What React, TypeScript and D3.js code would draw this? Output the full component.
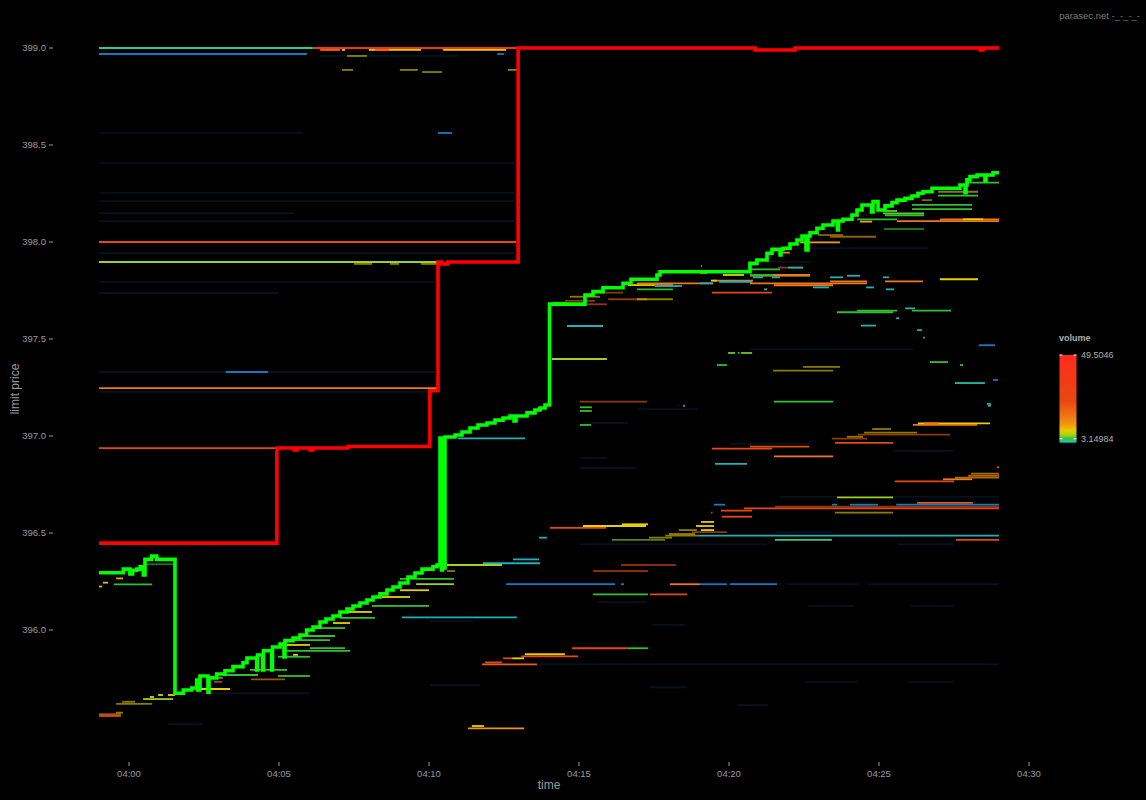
import React from "react";
import * as d3 from "d3";

const W = 1146;
const H = 800;

// time is expressed in minutes after 04:00
const base = new Date(2015, 0, 1, 4, 0, 0);
const at = (m: number) => new Date(base.getTime() + m * 60000);

// best ask (red) [minute, price]
const bestAsk: [number, number][] = [
  [-1, 396.448], [4.93, 396.938], [5.5, 396.928], [5.6, 396.938], [6.03, 396.928], [6.13, 396.938],
  [7.3, 396.946], [10.03, 397.233], [10.3, 397.897], [10.43, 397.887], [10.63, 397.897],
  [12.97, 399.0], [20.87, 398.99], [22.2, 399.0], [28.37, 398.99], [28.47, 399.0], [29, 399.0],
];

// best bid (green) [minute, price]
const bestBid: [number, number][] = [
  [-1.0, 396.295], [-0.19, 396.314], [0.03, 396.289], [0.12, 396.308], [0.26, 396.314], [0.37, 396.326],
  [0.477, 396.284], [0.533, 396.364], [0.757, 396.381], [0.923, 396.364], [1.533, 395.674], [1.81, 395.691],
  [2.09, 395.701], [2.257, 395.742], [2.283, 395.691], [2.367, 395.763], [2.633, 395.68], [2.667, 395.753],
  [2.923, 395.773], [3.2, 395.79], [3.467, 395.811], [3.8, 395.831], [3.933, 395.856], [4.257, 395.794],
  [4.283, 395.871], [4.457, 395.794], [4.483, 395.893], [4.757, 395.794], [4.783, 395.912], [5.033, 395.928],
  [5.167, 395.861], [5.2, 395.945], [5.467, 395.959], [5.7, 395.974], [5.923, 396.0], [6.133, 396.015],
  [6.367, 396.041], [6.567, 396.057], [6.8, 396.072], [7.033, 396.093], [7.267, 396.108], [7.467, 396.124],
  [7.7, 396.139], [7.933, 396.155], [8.133, 396.17], [8.367, 396.186], [8.6, 396.206], [8.8, 396.222],
  [9.033, 396.242], [9.3, 396.273], [9.533, 396.294],
  [9.767, 396.314], [10.133, 396.326], [10.267, 396.335], [10.367, 396.99], [10.417, 396.309], [10.45, 396.979],
  [10.5, 396.32], [10.533, 396.995], [10.867, 397.005], [11.1, 397.021], [11.367, 397.041], [11.633, 397.057],
  [11.933, 397.067], [12.2, 397.082], [12.467, 397.093], [12.7, 397.103], [12.833, 397.077], [12.9, 397.103],
  [13.267, 397.119], [13.533, 397.134], [13.7, 397.144], [13.867, 397.16], [14.017, 397.68], [15.2, 397.727],
  [15.467, 397.744], [15.8, 397.764], [16.467, 397.787], [16.733, 397.808], [17.6, 397.83], [17.7, 397.847],
  [20.7, 397.89], [20.933, 397.907], [21.267, 397.942], [21.433, 397.962], [21.7, 397.933], [21.733, 397.962],
  [21.8, 397.968], [22.033, 397.99], [22.267, 398.01], [22.433, 398.031], [22.567, 397.959], [22.633, 398.031],
  [22.7, 398.048], [22.933, 398.071], [23.133, 398.088], [23.467, 398.108], [23.617, 398.062], [23.65, 398.108],
  [23.8, 398.117], [24.1, 398.139], [24.267, 398.165], [24.433, 398.191], [24.75, 398.155], [24.8, 398.208],
  [24.967, 398.165], [25.2, 398.186], [25.433, 398.203], [25.6, 398.216], [25.867, 398.225], [26.1, 398.237],
  [26.3, 398.251], [26.467, 398.259], [26.767, 398.277], [27.7, 398.294], [27.867, 398.254], [27.9, 398.294],
  [27.933, 398.32], [28.033, 398.337], [28.267, 398.345], [28.533, 398.316], [28.567, 398.345], [28.8, 398.357],
  [29.0, 398.357],
];

// resting limit orders: [start minute, end minute, price, volume]
const ordersBright: [number, number, number, number][] = [
  [-1.0, 6.13, 399.0, 2.0], [6.13, 12.93, 399.0, 42], [-1.0, 5.93, 398.969, 0.4], [6.37, 7.03, 398.99, 18],
  [7.1, 7.2, 398.99, 7.5], [8.0, 9.73, 398.99, 7.5], [8.2, 8.67, 398.99, 20], [10.47, 12.57, 398.99, 7.5],
  [12.27, 12.5, 398.969, 0.4], [10.3, 10.77, 398.562, 0.4], [-1.0, 12.9, 398.0, 24], [-1.0, 10.3, 397.897, 5],
  [3.23, 4.63, 397.33, 0.4], [-1.0, 10.27, 397.247, 15], [-1.0, 4.93, 396.938, 24],
  [-0.43, -0.2, 396.266, 10.5], [-0.87, -0.7, 396.244, 9], [-1.0, -0.9, 396.224, 9], [-0.5, 0.77, 396.235, 3.2],
  [0.97, 1.13, 395.665, 7.5], [1.3, 1.53, 395.665, 7.5], [0.7, 0.83, 395.655, 7.5], [0.47, 1.47, 395.644, 5],
  [-1.0, -0.27, 395.557, 24], [2.27, 3.37, 395.696, 7.5], [3.13, 4.3, 395.768, 3.2], [4.03, 5.27, 395.794, 3.2],
  [4.97, 6.03, 395.763, 3.2], [4.97, 6.03, 395.862, 3.2], [5.47, 5.63, 395.872, 7.5],
  [8.43, 9.37, 396.17, 7.5], [8.1, 9.03, 396.124, 3.2], [7.2, 8.1, 396.093, 7.5], [7.03, 8.2, 396.062, 3.2],
  [6.8, 7.37, 396.036, 7.5], [6.37, 7.2, 396.01, 3.2], [5.7, 6.87, 395.969, 3.2], [5.37, 6.7, 395.948, 3.2],
  [5.03, 6.03, 395.923, 7.5], [6.03, 7.2, 395.907, 3.2], [5.2, 7.37, 395.892, 3.2],
  [15.13, 17.23, 396.536, 7.5], [14.03, 15.9, 396.526, 24], [13.67, 13.93, 396.476, 1.0], [12.8, 13.67, 396.364, 1.0],
  [11.8, 13.7, 396.344, 1.0], [10.6, 12.43, 396.335, 5], [9.03, 10.83, 396.264, 3.2], [9.57, 10.83, 396.236, 5],
  [12.57, 16.2, 396.236, 0.4], [16.4, 16.5, 396.236, 0.4], [18.03, 19.03, 396.236, 15], [19.03, 19.93, 396.236, 0.4],
  [20.03, 21.6, 396.236, 0.4], [9.03, 10.0, 396.205, 7.5], [9.03, 10.0, 396.124, 3.2], [9.1, 12.93, 396.065, 1.0],
  [15.47, 17.3, 396.184, 3.2], [17.37, 18.6, 396.184, 24], [14.77, 16.63, 395.906, 24], [16.63, 17.3, 395.906, 3.2],
  [13.2, 14.53, 395.875, 7.5], [13.07, 14.97, 395.864, 24], [12.77, 13.17, 395.854, 7.5], [12.47, 12.77, 395.854, 24],
  [11.87, 12.43, 395.833, 24], [11.77, 13.6, 395.823, 20], [11.43, 11.83, 395.505, 7.5], [11.3, 13.17, 395.493, 12],
  [10.97, 13.2, 396.988, 1.0], [21.5, 23.47, 397.177, 3.2], [18.47, 18.53, 397.156, 1.0], [15.03, 15.43, 397.148, 3.2],
  [15.03, 15.43, 397.129, 3.2], [15.03, 15.4, 397.057, 3.2], [28.6, 28.73, 397.165, 1.0], [26.3, 28.7, 397.065, 7.5],
  [26.5, 27.0, 397.065, 15], [26.13, 28.27, 397.057, 15], [23.53, 25.47, 396.965, 24], [20.7, 22.67, 396.945, 24],
  [19.43, 21.43, 396.935, 24], [21.5, 23.47, 396.895, 15], [19.53, 20.6, 396.856, 1.0], [28.93, 29.0, 396.839, 24],
  [27.97, 29.0, 396.795, 24], [27.13, 28.1, 396.777, 15], [25.53, 27.5, 396.766, 24], [23.6, 25.47, 396.684, 5],
  [26.27, 28.13, 396.655, 20], [19.5, 19.87, 396.646, 0.4], [23.43, 23.6, 396.646, 0.4], [24.03, 24.97, 396.646, 0.4],
  [25.57, 29.0, 396.646, 0.4], [20.5, 29.0, 396.627, 24], [19.73, 20.77, 396.615, 24], [19.4, 19.45, 396.605, 42],
  [19.77, 20.77, 396.584, 24], [19.07, 19.5, 396.557, 7.5], [16.43, 17.3, 396.545, 7.5], [18.9, 19.5, 396.536, 7.5],
  [19.07, 19.5, 396.515, 7.5], [18.97, 29.0, 396.486, 1.0], [21.53, 23.43, 396.465, 2.0], [27.57, 29.0, 396.465, 24],
  [16.93, 18.13, 397.756, 3.2], [16.63, 17.53, 397.778, 7.5], [17.53, 18.13, 397.778, 15], [17.53, 18.43, 397.773, 1.0],
  [16.93, 19.47, 397.787, 15], [19.03, 19.47, 397.787, 1.0], [19.47, 20.8, 397.801, 15], [19.4, 19.6, 397.801, 7.5],
  [19.67, 20.77, 397.795, 1.0], [20.7, 24.6, 397.787, 15], [21.5, 23.47, 397.777, 15], [19.8, 20.5, 397.83, 7.5],
  [20.7, 21.47, 397.83, 3.2], [21.47, 22.7, 397.83, 15], [20.8, 21.13, 397.818, 1.0], [21.43, 21.7, 397.818, 1.0],
  [23.37, 23.8, 397.818, 1.0], [25.13, 25.33, 397.818, 1.0], [19.43, 21.43, 397.739, 24], [14.6, 15.8, 397.567, 1.0],
  [14.1, 15.93, 397.397, 5], [19.97, 20.2, 397.428, 4], [20.3, 20.35, 397.428, 4], [20.4, 20.77, 397.428, 4],
  [19.6, 19.93, 397.366, 3.2], [21.97, 22.47, 397.868, 1.0], [20.7, 21.7, 397.859, 3.2], [19.07, 19.1, 397.876, 15],
  [23.93, 24.37, 397.826, 1.0], [21.7, 22.03, 397.945, 15], [22.37, 23.7, 397.998, 10.5], [24.37, 24.77, 398.105, 10.5],
  [24.27, 25.6, 398.117, 3.2], [27.03, 29.0, 398.117, 15], [27.8, 28.47, 398.117, 7.5], [25.6, 29.0, 398.108, 15],
  [25.13, 25.6, 398.16, 4], [25.13, 26.5, 398.148, 4], [25.2, 26.5, 398.138, 3.2], [26.1, 28.1, 398.191, 3.2],
  [26.1, 28.1, 398.169, 3.2], [26.97, 28.3, 398.239, 3.2], [27.93, 29.0, 398.306, 3.2], [27.03, 28.3, 397.808, 7.5],
  [23.37, 24.6, 397.797, 15], [25.2, 26.47, 397.797, 15], [22.8, 23.33, 397.766, 1.0], [24.57, 24.83, 397.766, 1.0],
  [21.17, 21.27, 397.756, 1.0], [25.23, 25.5, 397.756, 1.0], [24.27, 25.6, 397.646, 3.2], [26.1, 27.4, 397.646, 3.2],
  [23.6, 25.47, 397.638, 3.2], [25.87, 26.2, 397.658, 1.0], [25.57, 25.67, 397.607, 1.0], [24.4, 24.9, 397.569, 1.0],
  [26.27, 26.43, 397.546, 1.0], [26.47, 26.53, 397.507, 1.0], [28.33, 28.87, 397.468, 0.4], [26.7, 27.3, 397.381, 3.2],
  [27.7, 27.8, 397.366, 3.2], [27.53, 28.53, 397.273, 1.5], [28.8, 28.97, 397.289, 0.4], [28.63, 28.73, 397.156, 1.0],
];

// orders at a price level that sits between pixel rows (dimmer)
const ordersDim: [number, number, number, number][] = [
  [7.27, 7.93, 398.959, 7.5], [7.1, 7.47, 398.887, 7.5], [9.03, 9.63, 398.887, 7.5], [9.77, 10.43, 398.876, 7.5],
  [12.63, 12.93, 398.887, 7.5], [7.5, 8.1, 397.887, 7.5], [8.7, 9.0, 397.887, 7.5], [9.73, 10.27, 397.887, 7.5],
  [0.53, 1.53, 396.339, 3.2], [-0.23, 0.2, 395.63, 7.5], [-0.43, 0.77, 395.619, 7.5], [-0.43, -0.2, 395.574, 7.5],
  [-1.0, -0.27, 395.566, 10.5], [2.83, 3.1, 395.733, 12], [2.93, 3.13, 395.753, 7.5], [4.07, 5.2, 395.746, 12],
  [10.6, 10.87, 396.304, 7.5], [15.47, 17.3, 396.304, 24], [16.4, 18.23, 396.335, 24], [15.03, 17.27, 397.177, 20],
  [24.77, 25.4, 397.036, 7.5], [24.5, 26.27, 397.017, 7.5], [24.3, 27.37, 397.007, 20], [23.93, 24.47, 396.996, 7.5],
  [23.43, 24.6, 396.986, 20], [28.07, 29.0, 396.806, 7.5], [27.53, 29.0, 396.785, 7.5], [21.53, 29.0, 396.636, 20],
  [23.53, 25.47, 396.605, 7.5], [18.33, 18.93, 396.515, 7.5], [18.77, 19.93, 396.505, 20], [18.0, 18.87, 396.495, 7.5],
  [17.87, 18.97, 396.486, 7.5], [17.33, 18.1, 396.476, 7.5], [16.1, 17.87, 396.465, 5], [14.13, 14.6, 397.687, 7.5],
  [14.53, 15.53, 397.697, 20], [14.7, 15.7, 397.718, 7.5], [15.27, 15.93, 397.679, 20], [15.7, 16.47, 397.739, 20],
  [15.97, 17.27, 397.705, 20], [16.93, 18.13, 397.705, 7.5], [22.47, 23.7, 397.356, 7.5], [21.47, 23.47, 397.337, 7.5],
  [21.63, 22.47, 397.868, 20], [19.03, 19.27, 397.839, 7.5], [20.7, 22.7, 397.826, 7.5], [23.37, 24.9, 398.027, 10.5],
  [22.97, 23.8, 398.036, 10.5], [25.17, 26.5, 398.067, 3.2], [26.43, 26.77, 398.216, 10.5], [26.97, 28.3, 398.259, 7.5],
];

// small orders, barely visible
const ordersFaint: [number, number, number, number][] = [
  [-1.0, 5.8, 398.562, 0.4], [-1.0, 12.87, 398.407, 0.4], [-1.0, 12.87, 398.253, 0.4], [-1.0, 12.87, 398.211, 0.4],
  [-1.0, 5.53, 398.149, 0.4], [-1.0, 12.87, 398.108, 0.4], [-1.0, 12.87, 397.943, 0.4], [-1.0, 10.27, 397.794, 0.4],
  [-1.0, 5.0, 397.737, 0.4], [-1.0, 10.27, 397.33, 0.4], [-1.0, 10.2, 397.227, 0.4], [6.37, 11.0, 398.959, 0.4],
  [1.3, 2.47, 395.515, 0.4], [2.43, 6.03, 395.674, 0.4], [13.6, 29.0, 395.823, 0.4], [21.97, 24.3, 396.236, 0.4],
  [24.63, 29.0, 396.236, 0.4], [15.6, 17.27, 396.144, 0.4], [22.63, 24.2, 396.124, 0.4], [26.03, 27.47, 396.124, 0.4],
  [17.43, 18.53, 396.026, 0.4], [10.03, 11.47, 396.046, 0.4], [22.53, 24.27, 395.733, 0.4], [25.97, 27.47, 395.733, 0.4],
  [10.03, 11.7, 395.716, 0.4], [17.37, 18.6, 395.705, 0.4], [20.3, 21.3, 395.613, 0.4], [16.97, 18.97, 397.139, 0.4],
  [15.37, 16.63, 397.067, 0.4], [15.03, 15.93, 396.887, 0.4], [15.03, 16.93, 396.835, 0.4], [20.03, 22.7, 396.959, 0.4],
  [21.7, 23.6, 396.686, 0.4], [25.47, 29.0, 396.686, 0.4], [21.53, 23.47, 396.505, 0.4], [15.03, 21.27, 396.443, 0.4],
  [25.6, 27.47, 396.443, 0.4], [25.53, 27.47, 396.923, 0.4], [22.03, 26.63, 397.968, 0.4], [21.27, 22.7, 397.898, 0.4],
  [20.7, 26.13, 397.447, 0.4],
];

const xTickMinutes = [0, 5, 10, 15, 20, 25, 30];
const yTicks = [396.0, 396.5, 397.0, 397.5, 398.0, 398.5, 399.0];
const legendMin = 1.0;
const legendBreaks = [3.14984, 49.5046];
const volumeStops = [0.4, 1.0, 2.0, 3.2, 5, 7.5, 10.5, 15, 24, 49.5046];
const volumeColours = ["#1878c8", "#20b0b8", "#20d090", "#30c030", "#a0d020", "#e8d000", "#f0a010", "#f07818", "#e84810", "#ff2a20"];

export default function App() {
  const x = d3.scaleTime().domain([at(-1.5), at(30.5)]).range([84, 1044]);
  const y = d3.scaleLinear().domain([395.4, 399.1]).range([746.4, 28.6]);
  const colour = d3.scaleLinear<string>().domain(volumeStops).range(volumeColours).clamp(true);

  const stepLine = d3
    .line<[number, number]>()
    .x((d) => x(at(d[0])))
    .y((d) => y(d[1]))
    .curve(d3.curveStepAfter);

  const font = "'Liberation Sans', Arial, Helvetica, sans-serif";
  const axisGrey = "#9a9a9a";

  const legendY = d3.scaleLinear().domain([legendMin, legendBreaks[1]]).range([442.7, 355]);
  const gradStops = d3.range(0, 1.0001, 0.02).map((f) => ({
    offset: f,
    colour: colour(legendMin + f * (legendBreaks[1] - legendMin)),
  }));

  const seg = (list: [number, number, number, number][], opacity: number, key: string, width: number) =>
    list.map((d, i) => (
      <line
        key={key + i}
        x1={x(at(d[0]))}
        x2={x(at(d[1]))}
        y1={y(d[2])}
        y2={y(d[2])}
        stroke={colour(d[3])}
        strokeOpacity={opacity}
        strokeWidth={width}
      />
    ));

  return (
    <svg
      width={W}
      height={H}
      style={{ position: "absolute", left: 0, top: 0, background: "#000" }}
      fontFamily={font}
    >
      <rect x={0} y={0} width={W} height={H} fill="#000" />
      <text x={1140} y={19} textAnchor="end" fontSize={9.5} fill="#7a7a7a">
        parasec.net -_-_-_-
      </text>

      {seg(ordersFaint, 0.15, "f", 1.8)}
      {seg(ordersDim, 0.6, "d", 1.8)}
      {seg(ordersBright, 1, "b", 1.8)}

      <path d={stepLine(bestAsk) || ""} fill="none" stroke="#ff0000" strokeWidth={3.6} />
      <path d={stepLine(bestBid) || ""} fill="none" stroke="#00ff00" strokeWidth={3.6} />

      {/* y axis */}
      {yTicks.map((t) => (
        <g key={"y" + t}>
          <line x1={49} x2={53} y1={y(t)} y2={y(t)} stroke={axisGrey} strokeWidth={1} />
          <text x={46} y={y(t)} dy="0.35em" textAnchor="end" fontSize={9.5} fill={axisGrey}>
            {d3.format(".1f")(t)}
          </text>
        </g>
      ))}
      <text
        transform={`translate(19,389) rotate(-90)`}
        textAnchor="middle"
        fontSize={12}
        fill={axisGrey}
      >
        limit price
      </text>

      {/* x axis */}
      {xTickMinutes.map((m) => (
        <g key={"x" + m}>
          <line x1={x(at(m))} x2={x(at(m))} y1={762} y2={766} stroke={axisGrey} strokeWidth={1} />
          <text x={x(at(m))} y={776.5} textAnchor="middle" fontSize={9.5} fill={axisGrey}>
            {d3.timeFormat("%H:%M")(at(m))}
          </text>
        </g>
      ))}
      <text x={549} y={789} textAnchor="middle" fontSize={12} fill={axisGrey}>
        time
      </text>

      {/* legend */}
      <defs>
        <linearGradient id="volgrad" x1="0" y1="1" x2="0" y2="0">
          {gradStops.map((s, i) => (
            <stop key={i} offset={s.offset} stopColor={s.colour} />
          ))}
        </linearGradient>
      </defs>
      <text x={1059} y={341} fontSize={9} fontWeight="bold" fill="#b0b0b0">
        volume
      </text>
      <rect x={1059.5} y={355} width={17} height={87.7} fill="url(#volgrad)" />
      {legendBreaks.map((b) => (
        <g key={"l" + b}>
          <line x1={1059.5} x2={1062.5} y1={legendY(b)} y2={legendY(b)} stroke="#fff" strokeWidth={1} />
          <line x1={1073.5} x2={1076.5} y1={legendY(b)} y2={legendY(b)} stroke="#fff" strokeWidth={1} />
          <text x={1081} y={legendY(b)} dy="0.35em" fontSize={9} fill="#b0b0b0">
            {String(b)}
          </text>
        </g>
      ))}
    </svg>
  );
}
